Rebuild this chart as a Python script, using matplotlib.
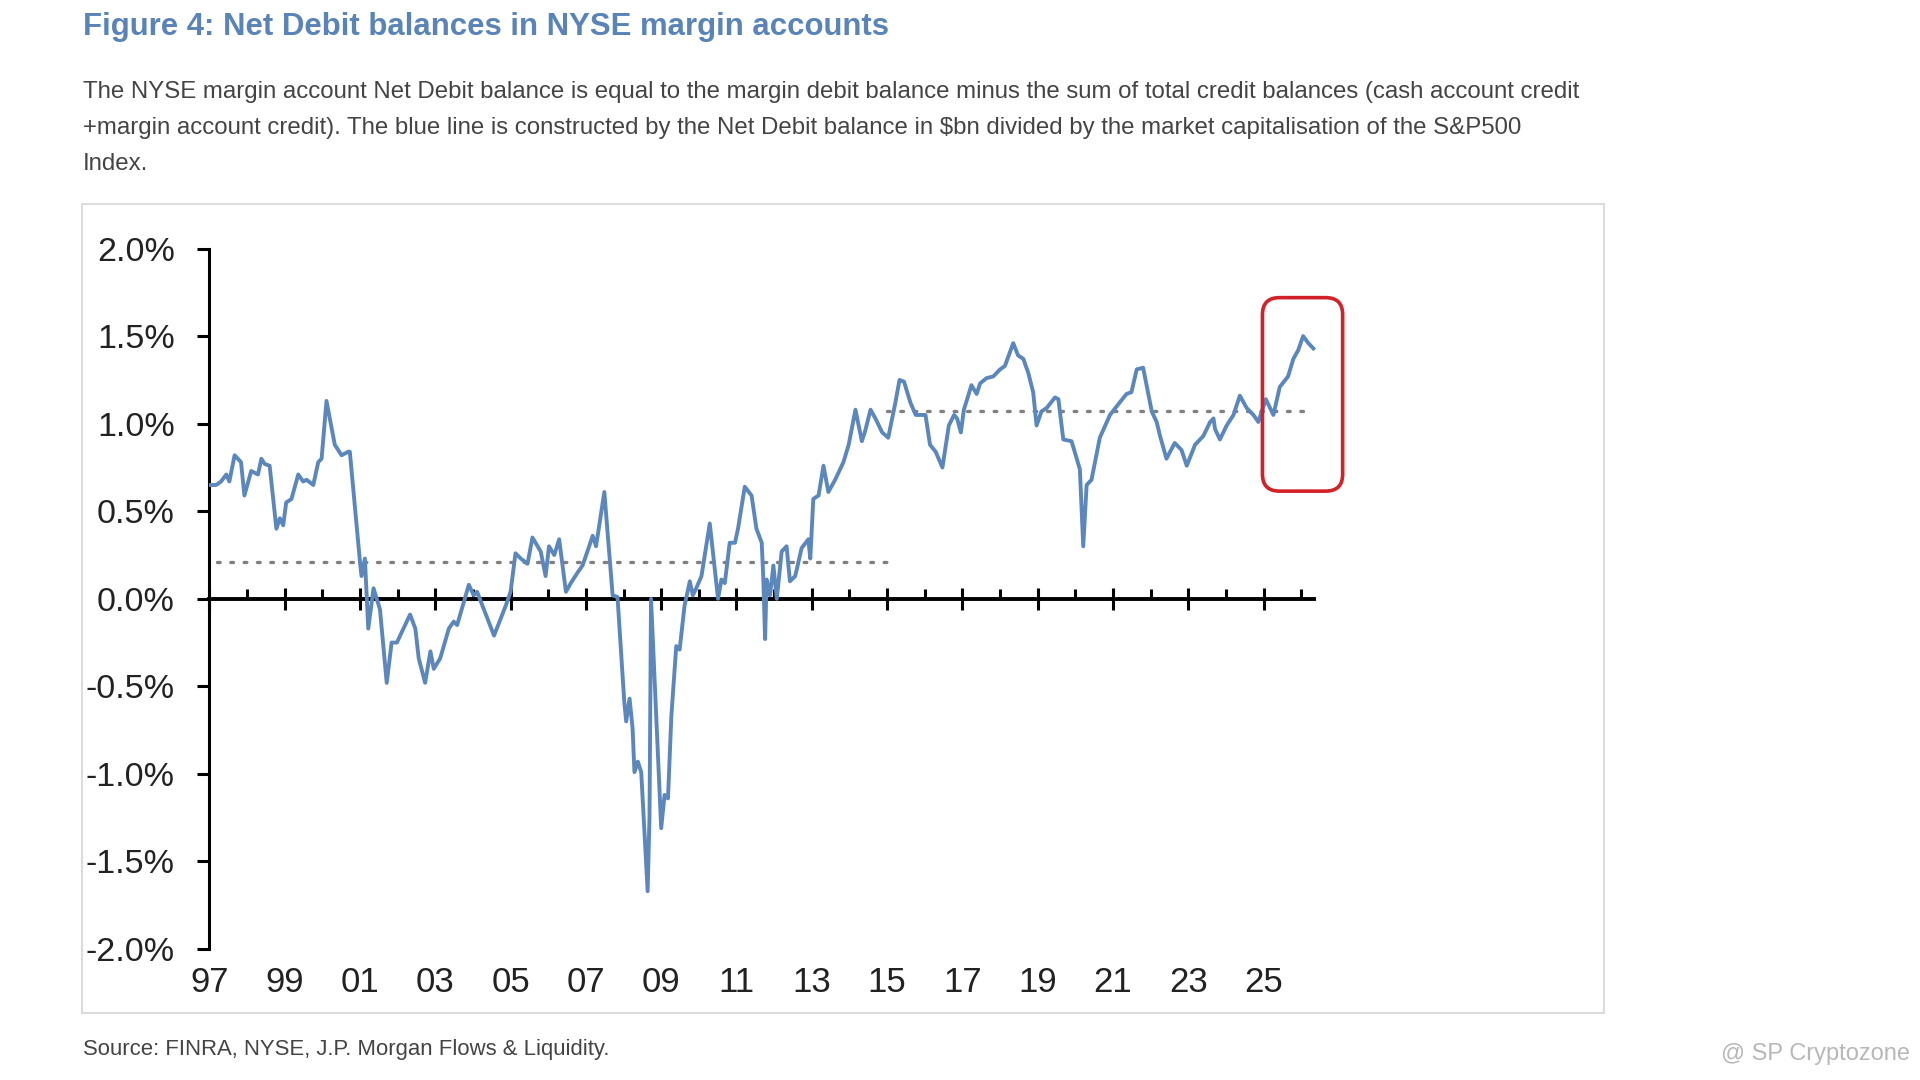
import numpy as np
import matplotlib.pyplot as plt
from matplotlib.patches import FancyBboxPatch, Rectangle
from matplotlib.ticker import MultipleLocator, FuncFormatter

# net debit / S&P500 market cap, %
years = [
    1997.00, 1997.18, 1997.31, 1997.45, 1997.53, 1997.67, 1997.84, 1997.93, 1998.11, 1998.29,
    1998.38, 1998.47, 1998.60, 1998.78, 1998.87, 1998.96, 1999.04, 1999.18, 1999.36, 1999.49,
    1999.58, 1999.76, 1999.89, 1999.98, 2000.11, 2000.33, 2000.51, 2000.69, 2000.73, 2001.00,
    2001.04, 2001.13, 2001.22, 2001.36, 2001.53, 2001.71, 2001.84, 2001.98, 2002.11, 2002.33,
    2002.47, 2002.56, 2002.73, 2002.87, 2002.96, 2003.13, 2003.36, 2003.49, 2003.58, 2003.89,
    2004.02, 2004.11, 2004.56, 2004.87, 2005.00, 2005.13, 2005.27, 2005.45, 2005.58, 2005.80,
    2005.93, 2006.02, 2006.16, 2006.29, 2006.47, 2006.60, 2006.78, 2006.91, 2007.04, 2007.18,
    2007.27, 2007.49, 2007.71, 2007.84, 2008.02, 2008.07, 2008.16, 2008.24, 2008.29, 2008.38,
    2008.47, 2008.64, 2008.69, 2008.73, 2009.00, 2009.09, 2009.18, 2009.27, 2009.40, 2009.49,
    2009.62, 2009.76, 2009.84, 2009.93, 2010.07, 2010.29, 2010.51, 2010.60, 2010.69, 2010.82,
    2010.96, 2011.04, 2011.22, 2011.40, 2011.53, 2011.67, 2011.71, 2011.76, 2011.80, 2011.89,
    2011.98, 2012.07, 2012.20, 2012.33, 2012.42, 2012.56, 2012.73, 2012.91, 2012.96, 2013.04,
    2013.18, 2013.31, 2013.44, 2013.62, 2013.84, 2013.98, 2014.16, 2014.33, 2014.42, 2014.56,
    2014.69, 2014.87, 2015.03, 2015.22, 2015.33, 2015.45, 2015.62, 2015.76, 2016.02, 2016.14,
    2016.29, 2016.47, 2016.64, 2016.78, 2016.86, 2016.96, 2017.04, 2017.24, 2017.38, 2017.47,
    2017.64, 2017.82, 2018.00, 2018.13, 2018.35, 2018.48, 2018.62, 2018.75, 2018.88, 2018.97,
    2019.10, 2019.24, 2019.46, 2019.55, 2019.68, 2019.90, 2020.12, 2020.21, 2020.30, 2020.43,
    2020.65, 2020.92, 2021.10, 2021.36, 2021.49, 2021.63, 2021.80, 2022.03, 2022.16, 2022.25,
    2022.42, 2022.64, 2022.82, 2022.96, 2023.18, 2023.40, 2023.58, 2023.67, 2023.71, 2023.84,
    2024.02, 2024.20, 2024.37, 2024.55, 2024.73, 2024.86, 2025.06, 2025.26, 2025.43, 2025.65,
    2025.79, 2025.92, 2026.05, 2026.19, 2026.32,
]
net_debit = [
    0.65, 0.65, 0.67, 0.71, 0.67, 0.82, 0.78, 0.59, 0.73, 0.71,
    0.80, 0.77, 0.76, 0.40, 0.46, 0.42, 0.55, 0.57, 0.71, 0.67,
    0.68, 0.65, 0.78, 0.80, 1.13, 0.88, 0.82, 0.84, 0.84, 0.21,
    0.13, 0.23, -0.17, 0.06, -0.06, -0.48, -0.25, -0.25, -0.19, -0.09,
    -0.17, -0.34, -0.48, -0.30, -0.40, -0.34, -0.17, -0.13, -0.15, 0.08,
    0.02, 0.04, -0.21, -0.04, 0.04, 0.26, 0.23, 0.20, 0.35, 0.27,
    0.13, 0.30, 0.25, 0.34, 0.04, 0.09, 0.15, 0.19, 0.27, 0.36,
    0.30, 0.61, 0.02, 0.01, -0.59, -0.70, -0.57, -0.74, -0.99, -0.93,
    -0.99, -1.67, -1.24, 0.00, -1.31, -1.12, -1.14, -0.67, -0.27, -0.29,
    -0.04, 0.10, 0.02, 0.06, 0.13, 0.43, 0.00, 0.11, 0.09, 0.32,
    0.32, 0.40, 0.64, 0.59, 0.40, 0.32, 0.13, -0.23, 0.11, 0.02,
    0.19, 0.00, 0.27, 0.30, 0.10, 0.13, 0.29, 0.34, 0.23, 0.57,
    0.59, 0.76, 0.61, 0.68, 0.78, 0.88, 1.08, 0.90, 0.96, 1.08,
    1.03, 0.95, 0.92, 1.12, 1.25, 1.24, 1.12, 1.05, 1.05, 0.88,
    0.84, 0.75, 0.99, 1.05, 1.03, 0.95, 1.08, 1.22, 1.17, 1.23,
    1.26, 1.27, 1.31, 1.33, 1.46, 1.39, 1.37, 1.29, 1.18, 0.99,
    1.07, 1.09, 1.15, 1.14, 0.91, 0.90, 0.74, 0.30, 0.65, 0.68,
    0.92, 1.05, 1.10, 1.17, 1.18, 1.31, 1.32, 1.07, 1.01, 0.93,
    0.80, 0.89, 0.85, 0.76, 0.88, 0.93, 1.01, 1.03, 0.97, 0.91,
    0.99, 1.05, 1.16, 1.09, 1.05, 1.01, 1.14, 1.05, 1.21, 1.27,
    1.37, 1.42, 1.50, 1.46, 1.43,
]

# dotted average lines: (start, end, level)
avg_lines = [(1997.2, 2015.0, 0.21), (2015.0, 2026.3, 1.07)]
# red highlight box: x0, x1, y0, y1
box = (2024.97, 2027.1, 0.615, 1.72)

title = "Figure 4: Net Debit balances in NYSE margin accounts"
desc = [
    "The NYSE margin account Net Debit balance is equal to the margin debit balance minus the sum of total credit balances (cash account credit",
    "+margin account credit). The blue line is constructed by the Net Debit balance in \\$bn divided by the market capitalisation of the S&P500",
    "Index.",
]
source = "Source: FINRA, NYSE, J.P. Morgan Flows & Liquidity."

BLUE = "#5b87bd"
tick_font = ["Liberation Sans Narrow", "Liberation Sans", "DejaVu Sans"]
text_font = ["Liberation Sans", "DejaVu Sans"]

fig = plt.figure(figsize=(19.2, 10.8), dpi=100)

# light frame round the chart
fig.patches.append(Rectangle((0.0427, 0.062), 0.7927, 0.7491, transform=fig.transFigure,
                             fill=False, ec="#dcdcdc", lw=1.5))

ax = fig.add_axes([0.10906, 0.1213, 0.6471, 0.6485])
ax.set_xlim(1997, 2030)
ax.set_ylim(-2.0, 2.0)

ax.plot(years, net_debit, color=BLUE, lw=2.8, solid_joinstyle="round", zorder=3)
for x0, x1, lvl in avg_lines:
    ax.plot([x0, x1], [lvl, lvl], color="#808080", lw=2.4, linestyle=(0, (0.8, 3.2)),
            dash_capstyle="round", zorder=2)

ax.add_patch(FancyBboxPatch((box[0], box[2]), box[1] - box[0], box[3] - box[2],
                            boxstyle="round,pad=0,rounding_size=0.45",
                            mutation_aspect=0.215, fill=False, ec="#d42027", lw=2.6, zorder=4))

for s in ["top", "right"]:
    ax.spines[s].set_visible(False)
ax.spines["left"].set_linewidth(2.2)
ax.spines["bottom"].set_position(("data", 0))
ax.spines["bottom"].set_linewidth(2.8)
ax.spines["bottom"].set_bounds(1997, 2026.35)
ax.spines["bottom"].set_zorder(2.5)

ax.yaxis.set_major_locator(MultipleLocator(0.5))
ax.yaxis.set_major_formatter(FuncFormatter(lambda v, p: f"{v:.1f}%"))
ax.tick_params(axis="y", direction="out", length=9, width=2.2, pad=16, labelsize=24.5,
               labelcolor="#222222")

ax.set_xticks(np.arange(1997, 2026, 2))
ax.set_xticks(np.arange(1998, 2027, 2), minor=True)
ax.tick_params(axis="x", which="major", direction="inout", length=16, width=2.2, labelbottom=False)
ax.tick_params(axis="x", which="minor", direction="in", length=7, width=2.2)

# year labels sit under the plot, not on the zero line
sec = ax.secondary_xaxis(0.0)
sec.set_xticks(np.arange(1997, 2026, 2))
sec.set_xticklabels([f"{int(y) % 100:02d}" for y in np.arange(1997, 2026, 2)])
sec.spines["bottom"].set_visible(False)
sec.tick_params(length=0, pad=12, labelsize=25, labelcolor="#222222")

for lab in ax.get_yticklabels() + sec.get_xticklabels():
    lab.set_family(tick_font)

fig.text(0.0432, 1 - 27 / 1080, title, color="#5a84b8", fontsize=22.4, fontweight="bold",
         family=text_font, va="center")
for i, line in enumerate(desc):
    fig.text(0.0432, 1 - (92 + 36 * i) / 1080, line, color="#444444", fontsize=17.3,
             family=text_font, va="center")
fig.text(0.0432, 1 - 1049 / 1080, source, color="#444444", fontsize=15.9,
         family=text_font, va="center")
fig.text(0.995, 1 - 1054 / 1080, "@ SP Cryptozone", color="#b8b8b8", fontsize=17,
         family=text_font, va="center", ha="right")

fig.savefig("out.png", dpi=100, facecolor="white")
